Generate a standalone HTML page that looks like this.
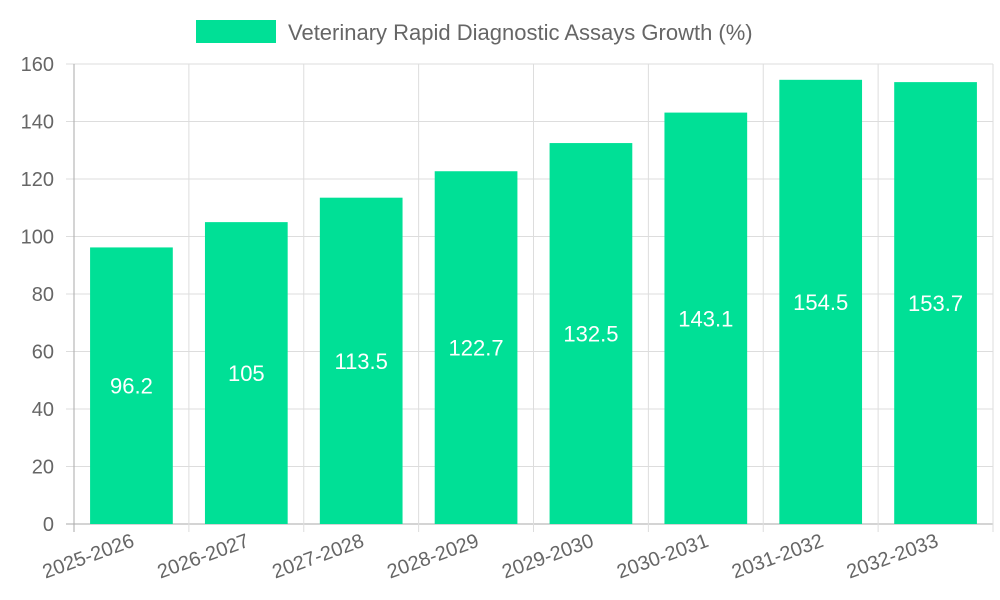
<!DOCTYPE html>
<html><head><meta charset="utf-8"><style>
body{margin:0;background:#fff;}
svg{display:block;font-family:"Liberation Sans",sans-serif;}
</style></head><body>
<svg id="chart" width="1000" height="600">
<g id="legend">
<rect x="196" y="20" width="80" height="23" fill="#00e096"/>
<text x="288" y="40" font-size="22" fill="#666">Veterinary Rapid Diagnostic Assays Growth (%)</text>
</g>
<g id="grid"></g><g id="bars"></g><g id="axes"></g>
</svg>
<script>
const categories=["2025-2026","2026-2027","2027-2028","2028-2029","2029-2030","2030-2031","2031-2032","2032-2033"];
const values=[96.2,105,113.5,122.7,132.5,143.1,154.5,153.7];
const yTicks=[0,20,40,60,80,100,120,140,160];
const NS="http://www.w3.org/2000/svg";
const L=74,R=993,T=64,B=524,yMax=160;
const bw=(R-L)/categories.length;
const y=v=>B-(v/yMax)*(B-T);
const xc=i=>L+bw*(i+0.5);
function mk(parent,tag,attrs){const e=document.createElementNS(NS,tag);for(const k in attrs)e.setAttribute(k,attrs[k]);document.getElementById(parent).appendChild(e);return e;}
yTicks.forEach(t=>{
 const g=mk('grid','line',{x1:L-8,x2:R,y1:y(t),y2:y(t),stroke:t===0?'#aaa':'#ddd','stroke-width':1});
 
 
 const tx=mk('axes','text',{x:L-20,y:y(t)+7,'text-anchor':'end','font-size':20,fill:'#666'});
 tx.textContent=t;
 
 
});
for(let i=0;i<=categories.length;i++){
 const g=mk('grid','line',{x1:L+bw*i,x2:L+bw*i,y1:T,y2:B+8,stroke:i===0?'#aaa':'#ddd','stroke-width':1});
 
 
}
categories.forEach((c,i)=>{
 const w=bw*0.72;
 const r=mk('bars','rect',{x:xc(i)-w/2,y:y(values[i]),width:w,height:B-y(values[i]),fill:'#00e096'});
 
 
 const v=mk('bars','text',{x:xc(i),y:(y(values[i])+B)/2+8,'text-anchor':'middle','font-size':22,fill:'#fff'});
 v.textContent=values[i];
 
 
 const cx=xc(i)+4,cy=546;
 const t=mk('axes','text',{x:cx,y:cy,'text-anchor':'end','font-size':20,fill:'#666',transform:`rotate(-20 ${cx} ${cy})`});
 t.textContent=c;
 
 
});
</script>
</body></html>
